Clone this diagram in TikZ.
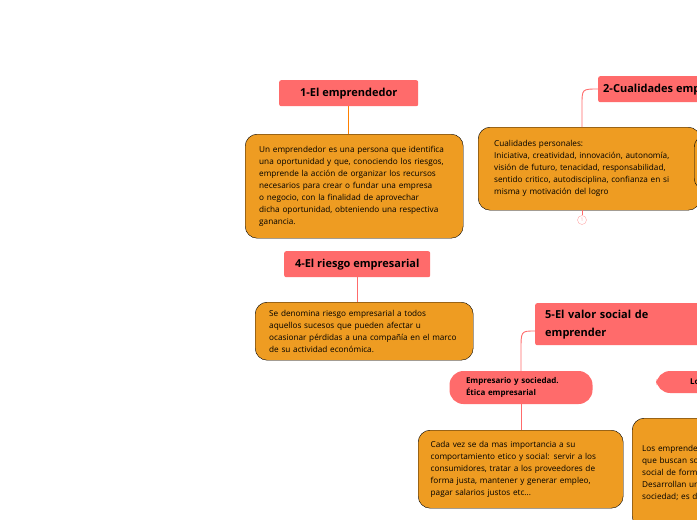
\documentclass[tikz,border=0pt]{standalone}
\usepackage{fontspec}
\setmainfont{Open Sans}
\definecolor{salmon}{HTML}{FF6B6B}
\definecolor{boxor}{HTML}{EE9C22}
\hyphenpenalty=10000
\exhyphenpenalty=10000
\begin{document}
\begin{tikzpicture}[x=1pt,y=-1pt,
 title/.style={fill=salmon,rounded corners=2pt,font=\fontsize{11}{13}\selectfont\bfseries,align=left,anchor=north west,inner sep=0pt},
 body/.style={draw=black,fill=boxor,rounded corners=12pt,font=\fontsize{8.2}{12}\selectfont,align=left,text width=#1,anchor=north west,inner xsep=0pt,inner ysep=0pt},
 sub/.style={fill=salmon,rounded corners=14pt,font=\fontsize{8}{12}\selectfont\bfseries,align=left,inner sep=0pt},
 ln/.style={draw=salmon,line width=0.9pt}]
\clip (0,0) rectangle (697,520);
\fill[white] (0,0) rectangle (697,520);
% 1
\node[title,minimum width=139,minimum height=26,inner xsep=10pt] (t1) at (279,80) {1-El emprendedor};
\node[body=190,minimum width=207,minimum height=104,inner xsep=14pt,inner ysep=4pt] (b1) at (245,134) {Un emprendedor es una persona que identifica una oportunidad y que, conociendo los riesgos, emprende la acción de organizar los recursos necesarios para crear o fundar una empresa o negocio, con la finalidad de aprovechar dicha oportunidad, obteniendo una respectiva ganancia.};
\draw[draw=orange,line width=0.9pt] (t1.south -| 348,0) -- (b1.north -| 348,0);
% 4
\node[title,minimum width=146,minimum height=26,inner xsep=5pt] (t4) at (284,251) {4-El riesgo empresarial};
\node[body=190,minimum width=207,minimum height=58,inner xsep=14pt,inner ysep=6pt] (b4) at (255,302) {Se denomina riesgo empresarial a todos aquellos sucesos que pueden afectar u ocasionar pérdidas a una compañía en el marco de su actividad económica.};
\draw[ln] (t4.south -| 357,0) -- (b4.north -| 357,0);
% 2
\node[title,minimum width=120,minimum height=26,inner xsep=5pt] (t2) at (598,76) {2-Cualidades emprendedoras};
\node[body=190,minimum width=208,minimum height=83,inner xsep=16pt,inner ysep=5pt] (b2) at (478,127) {Cualidades personales:\\Iniciativa, creatividad, innovación, autonomía, visión de futuro, tenacidad, responsabilidad, sentido critico, autodisciplina, confianza en si misma y motivación del logro};
\draw[ln] (t2.west |- 0,89) .. controls (582,89) and (582,89) .. (582,105) -- (b2.north -| 582,0);
\draw[ln,line width=0.5pt] (b2.south -| 582,0) -- ++(0,5);
\node[circle,draw=salmon!60,inner sep=0pt,minimum size=9pt,font=\fontsize{5}{5}\selectfont,text=salmon!60] (c2) at (582,220) {1};
\node[body=100,minimum width=120,minimum height=55] (b2b) at (694,135) {};
% 5
\node[title,minimum width=170,minimum height=42,text width=150,inner xsep=6pt,font=\fontsize{11}{18}\selectfont\bfseries] (t5) at (535,303) {5-El valor social de\\emprender};
\node[sub,minimum width=143,minimum height=33,text width=110] (s1) at (521,387.5) {Empresario y sociedad.\\Ética empresarial};
\draw[ln] (t5.west |- 0,331) .. controls (521,331) and (521,331) .. (521,350) -- (s1.north);
\node[body=180,minimum width=205,minimum height=78,inner xsep=12pt,inner ysep=5pt] (b5) at (418,430) {Cada vez se da mas importancia a su comportamiento etico y social: servir a los consumidores, tratar a los proveedores de forma justa, mantener y generar empleo, pagar salarios justos etc...};
\draw[ln] (s1.south) -- (b5.north -| s1.south);
\node[sub,anchor=west,minimum width=180,minimum height=22,inner xsep=15pt] (s2) at (656,382) {Los emprendedores sociales};
\node[body=170,minimum width=190,minimum height=110,inner xsep=10pt,inner ysep=4pt] (b6) at (632,418) {Los emprendedores sociales son aquellos que buscan solucionar un problema social de forma rentable en el tiempo. Desarrollan un negocio que beneficia a la sociedad; es decir, su actividad empresarial};
\end{tikzpicture}
\end{document}
